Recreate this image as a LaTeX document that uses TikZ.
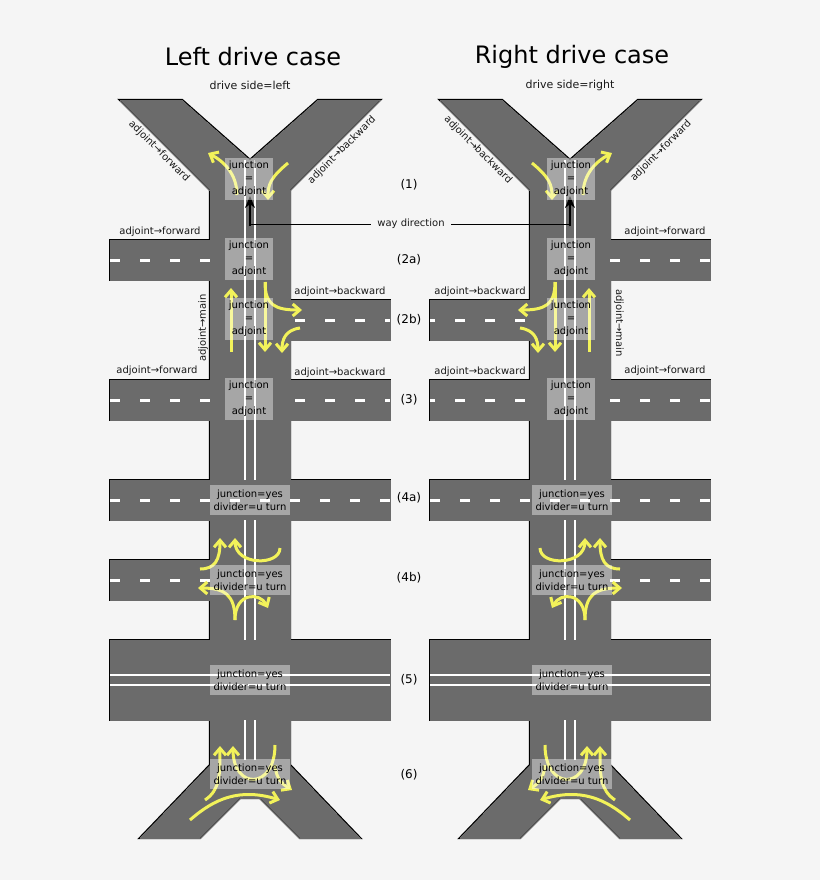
\documentclass[tikz,border=0pt]{standalone}
\usepackage{fontspec}
\setmainfont{DejaVu Sans}
\usetikzlibrary{arrows.meta}
\definecolor{bgc}{HTML}{F5F5F5}
\definecolor{road}{HTML}{6B6B6B}
\definecolor{ylw}{HTML}{F2F25A}
\tikzset{
  lbl/.style={font=\fontsize{5}{6}\selectfont, text=black!90, inner sep=0pt},
  rowlbl/.style={font=\fontsize{6}{7}\selectfont, inner sep=0pt},
  title/.style={font=\fontsize{12}{14}\selectfont, inner sep=0pt},
  jbox/.style={fill=white, fill opacity=0.4, text opacity=1, font=\fontsize{5}{6.5}\selectfont, align=center, inner sep=0pt},
  wline/.style={white, line width=1pt},
  dline/.style={white, line width=1.5pt, dash pattern=on 5pt off 10pt},
  ya/.style={ylw, line width=1.5pt, -{Straight Barb[length=3.5pt,width=6pt]}},
}
\newcommand{\roadgeom}{%
  \foreach \f/\w in {black/1.2pt, road/0pt}{
    \path[fill=\f, draw=\f, line width=\w]
      (120,100)--(182,100)--(250,160)--(318,100)--(380,100)--(290,190)--(290,765)--(360,838)--(300,838)--(260,798)--(240,798)--(200,838)--(140,838)--(210,765)--(210,190)--cycle;
    \path[fill=\f, draw=\f, line width=\w] (110,240) rectangle (210,280);
    \path[fill=\f, draw=\f, line width=\w] (290,300) rectangle (390,340);
    \path[fill=\f, draw=\f, line width=\w] (110,380) rectangle (390,420);
    \path[fill=\f, draw=\f, line width=\w] (110,480) rectangle (390,520);
    \path[fill=\f, draw=\f, line width=\w] (110,560) rectangle (210,600);
    \path[fill=\f, draw=\f, line width=\w] (110,640) rectangle (390,720);
  }
  \foreach \x in {245,255}{
    \draw[wline] (\x,160)--(\x,480);
    \draw[wline] (\x,520)--(\x,640);
    \draw[wline] (\x,720)--(\x,760);
  }
  \draw[wline] (110,675)--(390,675);
  \draw[wline] (110,685)--(390,685);
  \draw[dline] (110,260)--(210,260);
  \draw[dline] (295,320)--(390,320);
  \draw[dline] (110,400)--(210,400);
  \draw[dline] (295,400)--(390,400);
  \draw[dline] (110,500)--(390,500);
  \draw[dline] (110,580)--(210,580);
  % yellow arrows
  \draw[ya] (237,195) .. controls (237,175) and (225,162) .. (208,153);
  \draw[ya] (288,163) .. controls (270,178) and (268,185) .. (268,200);
  \draw[ya] (231,352) -- (231,288);
  \draw[ya] (265,282) -- (265,352);
  \draw[ya] (265,282) .. controls (265,305) and (275,310) .. (302,310);
  \draw[ya] (300,328) .. controls (285,330) and (282,340) .. (282,353);
  \draw[ya] (200,569) .. controls (215,569) and (220,560) .. (220,538);
  \draw[ya] (280,548) .. controls (280,566) and (235,566) .. (235,538);
  \draw[ya] (235,620) .. controls (235,595) and (225,588) .. (198,588);
  \draw[ya] (235,620) .. controls (235,592) and (260,592) .. (268,608);
  \draw[ya] (190,820) .. controls (215,798) and (240,788) .. (280,800);
  \draw[ya] (205,800) .. controls (220,790) and (220,775) .. (220,746);
  \draw[ya] (275,745) .. controls (275,790) and (233,790) .. (233,746);
  \draw[ya] (275,765) .. controls (276,780) and (284,785) .. (292,790);
  % way direction arrow
  \draw[black, line width=1pt, -{Stealth[length=6pt,width=5pt]}] (250,226) -- (250,196);
}
\begin{document}
\begin{tikzpicture}[x=0.5pt,y=-0.5pt]
\fill[bgc] (0,0) rectangle (820,880);
\roadgeom
\begin{scope}[shift={(820,0)},xscale=-1]
\roadgeom
\end{scope}
% boxes
\foreach \c/\s in {249/L,571/R}{
  \foreach \y/\n in {179/a,259/b,319/c,399/d}{
    \node[jbox, minimum width=24pt, minimum height=21pt] (box\s\n) at (\c,\y) {junction\\=\\adjoint};
  }
  \foreach \y/\n in {500/e,580/f,680/g,774/h}{
    \node[jbox, minimum width=40pt, minimum height=15pt] (box\s\n) at (\c+1,\y) {junction=yes\\divider=u turn};
  }
}
% titles
\node[title] (tl) at (253,57) {Left drive case};
\node[title] (tr) at (572,57) {Right drive case};
\node[lbl,font=\fontsize{5.5}{6}\selectfont] (dl) at (250,85) {drive side=left};
\node[lbl,font=\fontsize{5.5}{6}\selectfont] (dr) at (570,85) {drive side=right};
% row labels
\foreach \y/\t in {185/(1),260/(2a),320/(2b),400/(3),498/(4a),578/(4b),680/(5),775/(6)}{
  \node[rowlbl] at (409,\y) {\t};
}
% way direction
\node[lbl] (wd) at (411,224) {way direction};
\coordinate (wl) at (250,224);
\coordinate (wr) at (570,224);
\draw[black, line width=0.4pt] (wl) -- ([xshift=-3pt]wd.west);
\draw[black, line width=0.4pt] ([xshift=3pt]wd.east) -- (wr);
% left labels
\node[lbl, rotate=-45] (l1) at (159,151) {adjoint→forward};
\node[lbl, rotate=45] (l2) at (342,150) {adjoint→backward};
\node[lbl] (l3) at (160,232) {adjoint→forward};
\node[lbl] (l4) at (340,292) {adjoint→backward};
\node[lbl, rotate=90] (l5) at (203,328) {adjoint→main};
\node[lbl] (l6) at (157,371) {adjoint→forward};
\node[lbl] (l7) at (340,373) {adjoint→backward};
% right labels
\node[lbl, rotate=-45] (r1) at (478,150) {adjoint→backward};
\node[lbl, rotate=45] (r2) at (661,151) {adjoint→forward};
\node[lbl] (r3) at (665,232) {adjoint→forward};
\node[lbl] (r4) at (480,292) {adjoint→backward};
\node[lbl, rotate=-90] (r5) at (619,323) {adjoint→main};
\node[lbl] (r6) at (480,372) {adjoint→backward};
\node[lbl] (r7) at (665,371) {adjoint→forward};
\end{tikzpicture}
\end{document}
